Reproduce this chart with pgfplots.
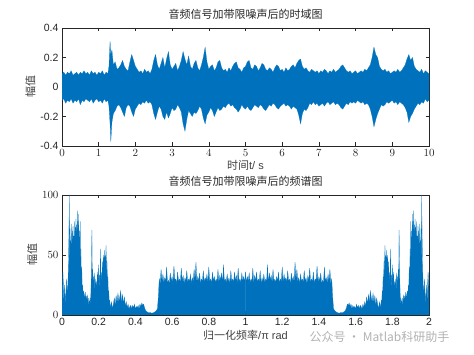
\documentclass[border=0pt]{standalone}
\usepackage{pgfplots}
\usepackage{pgfplotstable}
\pgfplotsset{compat=1.18}
\usepackage{fontspec}
\setmainfont{Liberation Sans}
\newfontfamily\cjk{Noto Sans CJK SC}
\definecolor{mblue}{RGB}{0,114,189}
\definecolor{axgray}{RGB}{38,38,38}

\pgfplotstableread{
f m
0.000 20
0.005 36
0.010 12
0.015 25
0.020 8
0.025 30
0.030 15
0.033 30
0.036 45
0.040 100
0.041 35
0.044 72
0.046 40
0.048 62
0.050 45
0.052 76
0.054 48
0.056 70
0.058 50
0.060 74
0.062 52
0.064 66
0.066 55
0.068 78
0.070 50
0.072 73
0.074 56
0.076 80
0.078 52
0.080 75
0.082 60
0.083 87
0.085 55
0.087 78
0.089 50
0.091 84
0.093 48
0.095 70
0.097 45
0.099 78
0.101 40
0.103 55
0.105 30
0.108 40
0.110 20
0.113 25
0.115 15
0.118 20
0.120 12
0.123 18
0.125 10
0.128 19
0.130 11
0.133 16
0.135 9
0.138 17
0.140 10
0.143 14
0.145 7
0.148 12
0.150 8
0.153 14
0.155 6
0.158 22
0.161 40
0.163 71
0.165 28
0.168 38
0.170 20
0.173 32
0.175 18
0.178 35
0.180 22
0.183 30
0.185 17
0.188 28
0.190 20
0.193 36
0.195 22
0.198 42
0.200 25
0.203 33
0.205 20
0.208 40
0.210 55
0.212 28
0.215 36
0.218 25
0.220 45
0.223 30
0.225 50
0.228 35
0.230 54
0.233 38
0.235 50
0.238 40
0.240 58
0.243 32
0.245 45
0.248 25
0.250 32
0.253 15
0.255 20
0.258 8
0.260 12
0.265 6
0.270 11
0.275 5
0.280 9
0.285 14
0.290 8
0.295 16
0.300 10
0.305 18
0.310 11
0.315 15
0.320 20
0.325 10
0.330 17
0.335 9
0.340 15
0.345 7
0.350 11
0.355 6
0.360 9
0.365 5
0.370 7
0.375 8
0.380 5
0.385 8
0.390 6
0.395 9
0.400 5
0.405 7
0.410 6
0.415 8
0.420 5
0.425 9
0.430 7
0.435 10
0.440 8
0.445 9
0.450 6
0.455 4
0.460 3
0.470 2
0.480 2
0.490 1.5
0.500 2
0.510 3
0.520 5
0.525 15
0.530 30
0.535 26
0.540 38
0.545 28
0.550 34
0.555 27
0.56 31
0.565 28
0.57 40
0.575 27
0.58 29
0.585 26
0.59 35
0.595 28
0.60 32
0.605 27
0.61 41
0.615 29
0.62 30
0.625 26
0.63 36
0.635 28
0.64 30
0.645 27
0.65 39
0.655 28
0.66 33
0.665 26
0.67 31
0.675 28
0.68 37
0.685 27
0.69 30
0.695 28
0.70 34
0.705 26
0.71 31
0.715 28
0.72 38
0.725 29
0.73 44
0.735 27
0.74 32
0.745 28
0.75 35
0.755 26
0.76 30
0.765 28
0.77 37
0.775 27
0.78 31
0.785 29
0.79 34
0.795 27
0.80 40
0.805 28
0.81 30
0.815 26
0.82 36
0.825 28
0.83 32
0.835 27
0.84 30
0.845 28
0.85 38
0.855 27
0.86 33
0.865 29
0.87 35
0.875 26
0.88 42
0.885 28
0.89 30
0.895 27
0.90 34
0.905 28
0.91 31
0.915 26
0.92 37
0.925 28
0.93 30
0.935 27
0.94 36
0.945 28
0.95 33
0.955 26
0.96 39
0.965 28
0.97 30
0.975 27
0.98 35
0.985 28
0.99 32
0.995 27
1.00 36
}\spec

\begin{document}
\begin{tikzpicture}[x=1pt,y=1pt]
\useasboundingbox (0,0) rectangle (474,355);
\pgfplotsset{
  mstyle/.style={
    scale only axis, width=367pt,
    axis line style={axgray, line width=0.5pt},
    tick style={axgray, line width=0.5pt},
    tick align=inside, tick pos=both,
    major tick length=3.5pt,
    ticklabel style={font=\fontsize{10.5}{12}\selectfont, text=axgray},
    label style={font=\fontsize{11}{13}\selectfont, text=black!75},
    title style={font=\cjk\fontsize{11}{13}\selectfont, text=black!85, yshift=-1pt},
    clip=true,
  }
}
% top: time domain
\begin{axis}[mstyle, at={(62pt,209pt)}, anchor=south west, height=118pt,
  xmin=0, xmax=10, ymin=-0.4, ymax=0.4,
  xtick={0,1,...,10},
  ytick={-0.4,-0.2,0,0.2,0.4},
  yticklabels={-0.4,-0.2,0,0.2,0.4},
  title={音频信号加带限噪声后的时域图},
  xlabel={{\cjk 时间}t/ s},
  ylabel={\cjk 幅值},
  xlabel style={yshift=3pt},
  ylabel style={yshift=-2pt},
]
\addplot[fill=mblue, draw=mblue, line width=0.2pt] coordinates {
(0.0,0.09)(0.05,0.10)(0.1,0.08)(0.15,0.10)(0.2,0.09)(0.25,0.11)(0.3,0.08)(0.35,0.09)(0.4,0.10)(0.45,0.08)
(0.5,0.10)(0.55,0.09)(0.6,0.11)(0.65,0.09)(0.7,0.10)(0.75,0.08)(0.8,0.11)(0.85,0.09)(0.9,0.10)(0.95,0.08)
(1.0,0.10)(1.05,0.09)(1.1,0.11)(1.15,0.08)(1.2,0.10)(1.25,0.09)(1.28,0.14)(1.31,0.31)(1.33,0.22)(1.36,0.25)
(1.4,0.15)(1.45,0.17)(1.5,0.12)(1.55,0.13)(1.6,0.15)(1.65,0.18)(1.7,0.14)(1.75,0.12)(1.8,0.11)(1.85,0.17)
(1.9,0.22)(1.95,0.18)(2.0,0.14)(2.05,0.12)(2.1,0.10)(2.15,0.11)(2.2,0.09)(2.25,0.12)(2.3,0.10)(2.35,0.11)
(2.4,0.09)(2.45,0.12)(2.5,0.18)(2.55,0.22)(2.6,0.15)(2.65,0.12)(2.7,0.16)(2.75,0.20)(2.8,0.13)(2.85,0.19)
(2.9,0.24)(2.95,0.15)(3.0,0.12)(3.05,0.14)(3.1,0.16)(3.15,0.11)(3.2,0.14)(3.25,0.18)(3.3,0.24)(3.35,0.19)
(3.4,0.15)(3.45,0.21)(3.5,0.14)(3.55,0.12)(3.6,0.16)(3.65,0.18)(3.7,0.13)(3.75,0.11)(3.8,0.15)(3.85,0.20)
(3.9,0.27)(3.95,0.17)(4.0,0.12)(4.05,0.14)(4.1,0.15)(4.15,0.11)(4.2,0.13)(4.25,0.17)(4.3,0.18)(4.35,0.13)
(4.4,0.11)(4.45,0.12)(4.5,0.10)(4.55,0.13)(4.6,0.11)(4.65,0.14)(4.7,0.16)(4.75,0.17)(4.8,0.13)(4.85,0.12)
(4.9,0.10)(4.95,0.13)(5.0,0.14)(5.05,0.17)(5.1,0.18)(5.15,0.13)(5.2,0.12)(5.25,0.15)(5.3,0.14)(5.35,0.11)
(5.4,0.13)(5.45,0.16)(5.5,0.15)(5.55,0.12)(5.6,0.11)(5.65,0.13)(5.7,0.12)(5.75,0.10)(5.8,0.13)(5.85,0.15)
(5.9,0.14)(5.95,0.11)(6.0,0.12)(6.05,0.10)(6.1,0.13)(6.15,0.11)(6.2,0.12)(6.25,0.14)(6.3,0.15)(6.35,0.13)
(6.4,0.16)(6.45,0.18)(6.5,0.19)(6.55,0.14)(6.6,0.12)(6.65,0.13)(6.7,0.11)(6.75,0.10)(6.8,0.12)(6.85,0.11)
(6.9,0.10)(6.95,0.11)(7.0,0.09)(7.05,0.11)(7.1,0.10)(7.15,0.12)(7.2,0.11)(7.25,0.09)(7.3,0.11)(7.35,0.10)
(7.4,0.12)(7.45,0.10)(7.5,0.11)(7.55,0.12)(7.6,0.14)(7.65,0.15)(7.7,0.13)(7.75,0.11)(7.8,0.10)(7.85,0.11)
(7.9,0.09)(7.95,0.10)(8.0,0.11)(8.05,0.09)(8.1,0.10)(8.15,0.11)(8.2,0.10)(8.25,0.12)(8.3,0.11)(8.35,0.13)
(8.4,0.15)(8.45,0.20)(8.5,0.27)(8.55,0.22)(8.6,0.20)(8.65,0.14)(8.7,0.12)(8.75,0.11)(8.8,0.12)(8.85,0.10)
(8.9,0.11)(8.95,0.09)(9.0,0.10)(9.05,0.11)(9.1,0.10)(9.15,0.12)(9.2,0.10)(9.25,0.11)(9.3,0.13)(9.35,0.15)
(9.4,0.19)(9.45,0.22)(9.5,0.18)(9.55,0.20)(9.6,0.14)(9.65,0.12)(9.7,0.11)(9.75,0.10)(9.8,0.12)(9.85,0.09)
(9.9,0.11)(9.95,0.10)(10.0,0.09)
(10.0,-0.09)(9.95,-0.10)(9.9,-0.08)(9.85,-0.11)(9.8,-0.10)(9.75,-0.12)(9.7,-0.11)(9.65,-0.13)(9.6,-0.15)(9.55,-0.18)
(9.5,-0.20)(9.45,-0.24)(9.4,-0.17)(9.35,-0.14)(9.3,-0.12)(9.25,-0.11)(9.2,-0.10)(9.15,-0.12)(9.1,-0.10)(9.05,-0.11)
(9.0,-0.09)(8.95,-0.10)(8.9,-0.11)(8.85,-0.10)(8.8,-0.12)(8.75,-0.13)(8.7,-0.12)(8.65,-0.15)(8.6,-0.18)(8.55,-0.22)
(8.5,-0.27)(8.45,-0.20)(8.4,-0.15)(8.35,-0.12)(8.3,-0.11)(8.25,-0.12)(8.2,-0.10)(8.15,-0.11)(8.1,-0.10)(8.05,-0.09)
(8.0,-0.11)(7.95,-0.10)(7.9,-0.11)(7.85,-0.10)(7.8,-0.12)(7.75,-0.11)(7.7,-0.13)(7.65,-0.15)(7.6,-0.14)(7.55,-0.12)
(7.5,-0.11)(7.45,-0.12)(7.4,-0.10)(7.35,-0.11)(7.3,-0.12)(7.25,-0.10)(7.2,-0.11)(7.15,-0.13)(7.1,-0.11)(7.05,-0.12)
(7.0,-0.13)(6.95,-0.11)(6.9,-0.12)(6.85,-0.10)(6.8,-0.12)(6.75,-0.11)(6.7,-0.14)(6.65,-0.16)(6.6,-0.15)(6.55,-0.18)
(6.5,-0.25)(6.45,-0.19)(6.4,-0.15)(6.35,-0.14)(6.3,-0.13)(6.25,-0.15)(6.2,-0.13)(6.15,-0.12)(6.1,-0.13)(6.05,-0.11)
(6.0,-0.12)(5.95,-0.13)(5.9,-0.15)(5.85,-0.14)(5.8,-0.12)(5.75,-0.11)(5.7,-0.13)(5.65,-0.12)(5.6,-0.14)(5.55,-0.16)
(5.5,-0.15)(5.45,-0.13)(5.4,-0.12)(5.35,-0.14)(5.3,-0.13)(5.25,-0.12)(5.2,-0.14)(5.15,-0.16)(5.1,-0.15)(5.05,-0.13)
(5.0,-0.15)(4.95,-0.14)(4.9,-0.12)(4.85,-0.15)(4.8,-0.17)(4.75,-0.15)(4.7,-0.14)(4.65,-0.12)(4.6,-0.13)(4.55,-0.11)
(4.5,-0.12)(4.45,-0.14)(4.4,-0.13)(4.35,-0.15)(4.3,-0.16)(4.25,-0.14)(4.2,-0.17)(4.15,-0.20)(4.1,-0.16)(4.05,-0.14)
(4.0,-0.17)(3.95,-0.19)(3.9,-0.25)(3.85,-0.21)(3.8,-0.15)(3.75,-0.13)(3.7,-0.16)(3.65,-0.18)(3.6,-0.17)(3.55,-0.20)
(3.5,-0.18)(3.45,-0.16)(3.4,-0.22)(3.35,-0.30)(3.3,-0.25)(3.25,-0.17)(3.2,-0.14)(3.15,-0.12)(3.1,-0.15)(3.05,-0.16)
(3.0,-0.14)(2.95,-0.18)(2.9,-0.21)(2.85,-0.17)(2.8,-0.22)(2.75,-0.20)(2.7,-0.15)(2.65,-0.13)(2.6,-0.17)(2.55,-0.22)
(2.5,-0.18)(2.45,-0.12)(2.4,-0.10)(2.35,-0.11)(2.3,-0.09)(2.25,-0.11)(2.2,-0.10)(2.15,-0.12)(2.1,-0.11)(2.05,-0.13)
(2.0,-0.15)(1.95,-0.20)(1.9,-0.17)(1.85,-0.13)(1.8,-0.12)(1.75,-0.14)(1.7,-0.20)(1.65,-0.17)(1.6,-0.14)(1.55,-0.12)
(1.5,-0.13)(1.45,-0.16)(1.4,-0.18)(1.36,-0.24)(1.33,-0.37)(1.31,-0.25)(1.28,-0.13)(1.25,-0.09)(1.2,-0.10)(1.15,-0.08)
(1.1,-0.11)(1.05,-0.09)(1.0,-0.10)(0.95,-0.08)(0.9,-0.09)(0.85,-0.11)(0.8,-0.08)(0.75,-0.10)(0.7,-0.09)(0.65,-0.08)
(0.6,-0.10)(0.55,-0.09)(0.5,-0.12)(0.45,-0.08)(0.4,-0.10)(0.35,-0.09)(0.3,-0.11)(0.25,-0.08)(0.2,-0.10)(0.15,-0.09)
(0.1,-0.11)(0.05,-0.08)(0.0,-0.09)
} -- cycle;
\end{axis}
% bottom: spectrum
\begin{axis}[mstyle, at={(62pt,40pt)}, anchor=south west, height=120pt,
  xmin=0, xmax=2, ymin=0, ymax=100,
  xtick={0,0.2,...,2.01},
  xticklabels={0,0.2,0.4,0.6,0.8,1,1.2,1.4,1.6,1.8,2},
  ytick={0,50,100},
  title={音频信号加带限噪声后的频谱图},
  xlabel={{\cjk 归一化频率}/π rad},
  ylabel={\cjk 幅值},
  xlabel style={yshift=3pt},
  ylabel style={yshift=-2pt},
]
\addplot[fill=mblue, draw=mblue, line width=0.2pt] table[x=f, y=m] {\spec} \closedcycle;
\addplot[fill=mblue, draw=mblue, line width=0.2pt] table[x expr={2-\thisrow{f}}, y=m] {\spec} \closedcycle;
\end{axis}
\node[anchor=west, text=black!30, font=\cjk\fontsize{12}{14}\selectfont] at (306,18) {公众号 · Matlab科研助手};
\end{tikzpicture}
\end{document}
